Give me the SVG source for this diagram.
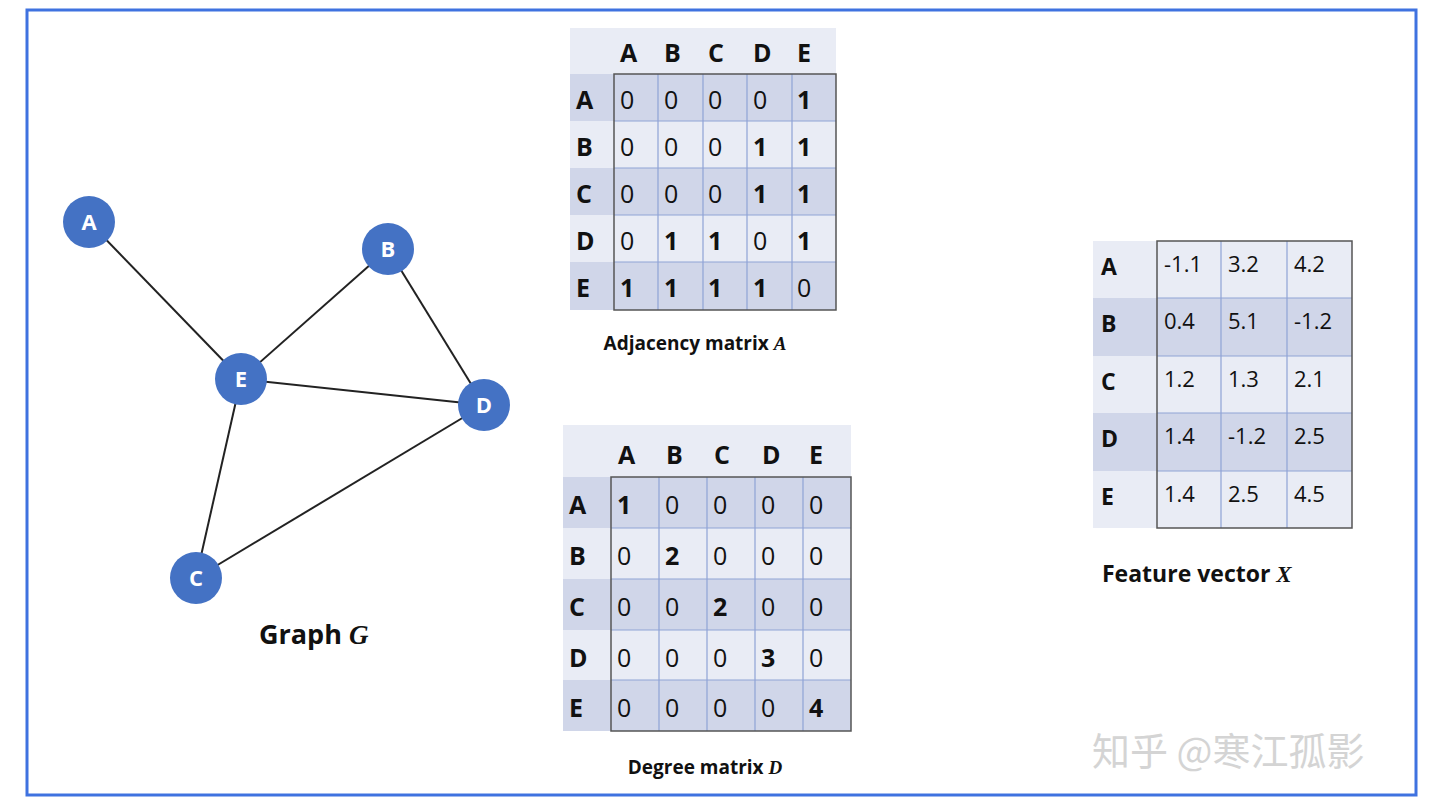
<svg xmlns="http://www.w3.org/2000/svg" width="1440" height="811" viewBox="0 0 1440 811">
<style>
text{font-family:"Open Sans","Liberation Sans",sans-serif;fill:#111}
.h{font-weight:bold;font-size:25px}
.n{font-size:25px}
.b{font-weight:bold;font-size:25px}
.f{font-size:22px}
.cap{font-weight:bold;font-size:19px}
.dk{fill:#d0d6e9}
.lt{fill:#e9ecf5}
.grid{fill:none;stroke:#8fa3d6;stroke-width:1.2}
.out{fill:none;stroke:#555;stroke-width:1.5}
.node circle{fill:#4472c4}
.node text{fill:#fff;font-weight:bold;font-size:22px;text-anchor:middle}
.e{stroke:#222;stroke-width:2}
</style>
<rect x="0" y="0" width="1440" height="811" fill="#fff"/>
<rect x="27" y="10" width="1389" height="785" fill="none" stroke="#3f72e0" stroke-width="3"/>

<g id="connectors">
<line class="e" x1="89" y1="222" x2="241" y2="379"/>
<line class="e" x1="388" y1="249" x2="241" y2="379"/>
<line class="e" x1="388" y1="249" x2="484" y2="405"/>
<line class="e" x1="241" y1="379" x2="484" y2="405"/>
<line class="e" x1="241" y1="379" x2="196" y2="578"/>
<line class="e" x1="196" y1="578" x2="484" y2="405"/>
</g>
<g id="nodeA" class="node"><circle cx="89" cy="222" r="26"/><text x="89" y="230">A</text></g>
<g id="nodeB" class="node"><circle cx="388" cy="249" r="26"/><text x="388" y="257">B</text></g>
<g id="nodeE" class="node"><circle cx="241" cy="379" r="26"/><text x="241" y="387">E</text></g>
<g id="nodeD" class="node"><circle cx="484" cy="405" r="26"/><text x="484" y="413">D</text></g>
<g id="nodeC" class="node"><circle cx="196" cy="578" r="26"/><text x="196" y="586">C</text></g>
<text x="259" y="644" style="font-weight:bold;font-size:27px">Graph <tspan style="font-family:'Liberation Serif',serif;font-style:italic">G</tspan></text>

<g id="adjacency">
<rect x="570" y="28" width="266" height="46" class="lt"/>
<rect x="570" y="74" width="266" height="47" class="dk"/>
<rect x="570" y="121" width="266" height="47" class="lt"/>
<rect x="570" y="168" width="266" height="47" class="dk"/>
<rect x="570" y="215" width="266" height="47" class="lt"/>
<rect x="570" y="262" width="266" height="48" class="dk"/>
<path class="grid" d="M658 74V310M703 74V310M747 74V310M792 74V310M614 121H836M614 168H836M614 215H836M614 262H836"/>
<rect class="out" x="614" y="74" width="222" height="236"/>
<g class="h"><text x="620" y="62">A</text><text x="664" y="62">B</text><text x="708" y="62">C</text><text x="753" y="62">D</text><text x="797" y="62">E</text>
<text x="576" y="109">A</text><text x="576" y="156">B</text><text x="576" y="203">C</text><text x="576" y="250">D</text><text x="576" y="297">E</text></g>
<g class="n">
<text x="620" y="109">0</text><text x="664" y="109">0</text><text x="708" y="109">0</text><text x="753" y="109">0</text><text x="797" y="109" class="b">1</text>
<text x="620" y="156">0</text><text x="664" y="156">0</text><text x="708" y="156">0</text><text x="753" y="156" class="b">1</text><text x="797" y="156" class="b">1</text>
<text x="620" y="203">0</text><text x="664" y="203">0</text><text x="708" y="203">0</text><text x="753" y="203" class="b">1</text><text x="797" y="203" class="b">1</text>
<text x="620" y="250">0</text><text x="664" y="250" class="b">1</text><text x="708" y="250" class="b">1</text><text x="753" y="250">0</text><text x="797" y="250" class="b">1</text>
<text x="620" y="297" class="b">1</text><text x="664" y="297" class="b">1</text><text x="708" y="297" class="b">1</text><text x="753" y="297" class="b">1</text><text x="797" y="297">0</text>
</g>
<text x="695" y="350" class="cap" text-anchor="middle">Adjacency matrix <tspan style="font-family:'Liberation Serif',serif;font-style:italic">A</tspan></text>
</g>

<g id="degree">
<rect x="563" y="425" width="288" height="52" class="lt"/>
<rect x="563" y="477" width="288" height="51" class="dk"/>
<rect x="563" y="528" width="288" height="51" class="lt"/>
<rect x="563" y="579" width="288" height="51" class="dk"/>
<rect x="563" y="630" width="288" height="50" class="lt"/>
<rect x="563" y="680" width="288" height="51" class="dk"/>
<path class="grid" d="M659 477V731M707 477V731M755 477V731M803 477V731M611 528H851M611 579H851M611 630H851M611 680H851"/>
<rect class="out" x="611" y="477" width="240" height="254"/>
<g class="h"><text x="618" y="464">A</text><text x="666" y="464">B</text><text x="714" y="464">C</text><text x="762" y="464">D</text><text x="809" y="464">E</text>
<text x="569" y="514">A</text><text x="569" y="565">B</text><text x="569" y="616">C</text><text x="569" y="667">D</text><text x="569" y="717">E</text></g>
<g class="n">
<text x="617" y="514" class="b">1</text><text x="665" y="514">0</text><text x="713" y="514">0</text><text x="761" y="514">0</text><text x="809" y="514">0</text>
<text x="617" y="565">0</text><text x="665" y="565" class="b">2</text><text x="713" y="565">0</text><text x="761" y="565">0</text><text x="809" y="565">0</text>
<text x="617" y="616">0</text><text x="665" y="616">0</text><text x="713" y="616" class="b">2</text><text x="761" y="616">0</text><text x="809" y="616">0</text>
<text x="617" y="667">0</text><text x="665" y="667">0</text><text x="713" y="667">0</text><text x="761" y="667" class="b">3</text><text x="809" y="667">0</text>
<text x="617" y="717">0</text><text x="665" y="717">0</text><text x="713" y="717">0</text><text x="761" y="717">0</text><text x="809" y="717" class="b">4</text>
</g>
<text x="705" y="774" class="cap" text-anchor="middle">Degree matrix <tspan style="font-family:'Liberation Serif',serif;font-style:italic">D</tspan></text>
</g>

<g id="feature">
<rect x="1093" y="241" width="259" height="57" class="lt"/>
<rect x="1093" y="298" width="259" height="58" class="dk"/>
<rect x="1093" y="356" width="259" height="57" class="lt"/>
<rect x="1093" y="413" width="259" height="58" class="dk"/>
<rect x="1093" y="471" width="259" height="57" class="lt"/>
<path class="grid" d="M1221 241V528M1287 241V528M1157 298H1352M1157 356H1352M1157 413H1352M1157 471H1352"/>
<rect class="out" x="1157" y="241" width="195" height="287"/>
<g class="h" style="font-size:23px"><text x="1101" y="275">A</text><text x="1101" y="332">B</text><text x="1101" y="390">C</text><text x="1101" y="447">D</text><text x="1101" y="505">E</text></g>
<g class="f">
<text x="1164" y="272">-1.1</text><text x="1228" y="272">3.2</text><text x="1294" y="272">4.2</text>
<text x="1164" y="329">0.4</text><text x="1228" y="329">5.1</text><text x="1294" y="329">-1.2</text>
<text x="1164" y="387">1.2</text><text x="1228" y="387">1.3</text><text x="1294" y="387">2.1</text>
<text x="1164" y="444">1.4</text><text x="1228" y="444">-1.2</text><text x="1294" y="444">2.5</text>
<text x="1164" y="502">1.4</text><text x="1228" y="502">2.5</text><text x="1294" y="502">4.5</text>
</g>
<text x="1102" y="582" style="font-weight:bold;font-size:23px">Feature vector <tspan style="font-family:'Liberation Serif',serif;font-style:italic">X</tspan></text>
</g>

<text x="1092" y="765" style="font-family:'Noto Sans CJK SC',sans-serif;font-size:38px;fill:#d4d4d4">知乎 @寒江孤影</text>
</svg>
